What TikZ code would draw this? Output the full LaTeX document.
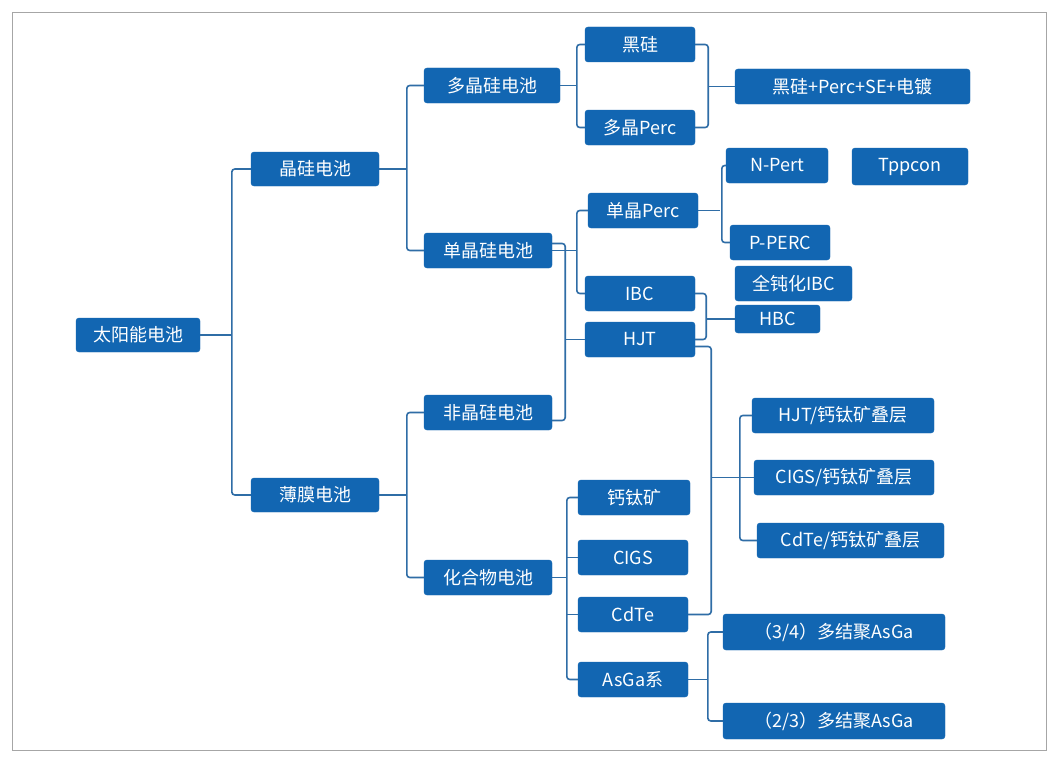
\documentclass[tikz,border=0pt]{standalone}
\usepackage{fontspec}
\setmainfont{Noto Sans CJK SC}
\begin{document}
\begin{tikzpicture}[x=1pt,y=-1pt,
  box/.style={draw=boxc,fill=boxc,rounded corners=3pt,text=white,inner sep=0pt,font=\fontsize{18}{20}\selectfont},
  ln/.style={draw=linec,line width=1.6pt,rounded corners=3pt}]
\definecolor{boxc}{HTML}{1266B2}
\definecolor{linec}{HTML}{2F6DA6}
\useasboundingbox (0,0) rectangle (1058,760);
\fill[white] (0,0) rectangle (1058,760);
\draw[gray!70,line width=0.8pt] (12,12) rectangle (1046,750);
\newcommand{\bx}[6]{\node[box,minimum width=#4-#2,minimum height=#5-#3] (#1) at ({(#2+#4)/2},{(#3+#5)/2}) {#6};}
\bx{sun}{76}{318}{200}{352}{太阳能电池}
\bx{jg}{251}{152}{379}{186}{晶硅电池}
\bx{bm}{251}{478}{379}{512}{薄膜电池}
\bx{dj}{424}{68}{560}{103}{多晶硅电池}
\bx{sj}{424}{233}{552}{268}{单晶硅电池}
\bx{fj}{424}{395}{552}{430}{非晶硅电池}
\bx{hh}{424}{560}{552}{595}{化合物电池}
\bx{hg}{585}{27}{695}{62}{黑硅}
\bx{dp}{585}{110}{695}{145}{多晶Perc}
\bx{big}{735}{69}{970}{104}{黑硅+Perc+SE+电镀}
\bx{np}{726}{148}{828}{183}{N-Pert}
\bx{tp}{852}{148}{968}{185}{Tppcon}
\bx{sp}{588}{193}{698}{228}{单晶Perc}
\bx{pp}{730}{225}{830}{260}{P-PERC}
\bx{ibc}{585}{276}{695}{311}{IBC}
\bx{qibc}{735}{266}{852}{301}{全钝化IBC}
\bx{hjt}{585}{322}{695}{357}{HJT}
\bx{hbc}{735}{305}{820}{333}{HBC}
\bx{hp}{752}{398}{934}{433}{HJT/钙钛矿叠层}
\bx{cp}{754}{460}{934}{495}{CIGS/钙钛矿叠层}
\bx{dp2}{757}{523}{944}{558}{CdTe/钙钛矿叠层}
\bx{gtk}{578}{480}{690}{515}{钙钛矿}
\bx{cigs}{578}{540}{688}{575}{CIGS}
\bx{cdte}{578}{597}{688}{632}{CdTe}
\bx{asga}{578}{662}{688}{697}{AsGa系}
\bx{a34}{723}{614}{945}{650}{（3/4）多结聚AsGa}
\bx{a23}{723}{703}{945}{739}{（2/3）多结聚AsGa}
% connectors
\draw[ln] (sun.east) -- ++(32,0);
\draw[ln] (jg.west) -- ++(-19,0) |- (bm.west);
\draw[ln] (jg.east) -- ++(28,0);
\draw[ln] (dj.west) -- ++(-17,0) |- (sj.west);
\draw[ln] (bm.east) -- ++(28,0);
\draw[ln] (fj.west) -- ++(-17,0) |- (hh.west);
\draw[ln] (dj.east) -- ++(17,0);
\draw[ln] (hg.west) -- ++(-8,0) |- (dp.west);
\draw[ln] (hg.east) -- ++(13,0) |- (dp.east);
\draw[ln] (big.west) -- ++(-27,0);
\draw[ln] (sj.east) -- ++(25,0);
\draw[ln] (sp.west) -- ++(-11,0) |- (ibc.west);
\draw[ln] ([yshift=7pt]sj.east) -- ++(13,0) |- ([yshift=-8pt]fj.east);
\draw[ln] (hjt.west) -- ++(-20,0);
\draw[ln] (sp.east) -- ++(22,0);
\draw[ln] (np.west) -- ++(-4,0) |- (pp.west);
\draw[ln] (ibc.east) -- ++(11,0) |- (hjt.east);
\draw[ln] (hbc.west) -- ++(-29,0);
\draw[ln] ([yshift=-7pt]hjt.east) -- ++(16,0) |- (cdte.east);
\draw[ln] (hp.west) -- ++(-12,0) |- (dp2.west);
\draw[ln] (cp.west) -- ++(-43,0);
\draw[ln] (hh.east) -- ++(15,0);
\draw[ln] (gtk.west) -- ++(-11,0) |- (asga.west);
\draw[ln] (cigs.west) -- ++(-11,0);
\draw[ln] (cdte.west) -- ++(-11,0);
\draw[ln] (asga.east) -- ++(20,0);
\draw[ln] (a34.west) -- ++(-15,0) |- (a23.west);
\end{tikzpicture}
\end{document}
